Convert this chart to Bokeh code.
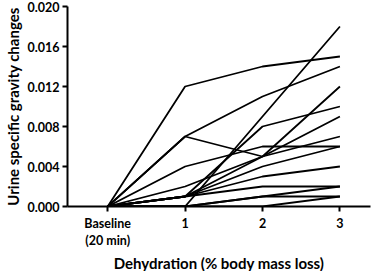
from bokeh.plotting import figure
from bokeh.models import FixedTicker, NumeralTickFormatter, Range1d, Title
from bokeh.embed import file_html
from bokeh.resources import INLINE

x_positions = [0, 1, 2, 3]
x_labels = ["Baseline\n(20 min)", "1", "2", "3"]
y_ticks = [0.000, 0.004, 0.008, 0.012, 0.016, 0.020]
x_title = "Dehydration (% body mass loss)"
y_title = "Urine specific gravity changes"

# each subject: urine specific gravity change at baseline, 1, 2, 3 % body mass loss
s01 = [0.0, 0.012, 0.014, 0.015]
s02 = [0.0, 0.007, 0.011, 0.014]
s03 = [0.0, 0.007, 0.005, 0.012]
s04 = [0.0, 0.004, 0.006, 0.006]
s05 = [0.0, 0.002, 0.005, 0.009]
s06 = [0.0, 0.001, 0.008, 0.010]
s07 = [0.0, 0.000, 0.009, 0.018]
s08 = [0.0, 0.001, 0.005, 0.007]
s09 = [0.0, 0.001, 0.004, 0.006]
s10 = [0.0, 0.001, 0.003, 0.004]
s11 = [0.0, 0.001, 0.002, 0.002]
s12 = [0.0, 0.000, 0.001, 0.002]
s13 = [0.0, 0.000, 0.001, 0.001]
s14 = [0.0, 0.000, 0.000, 0.001]
subjects = [s01, s02, s03, s04, s05, s06, s07, s08, s09, s10, s11, s12, s13, s14]

FONT = "Lato"

p = figure(width=372, height=271, output_backend="svg", toolbar_location=None,
           x_range=Range1d(-0.519, 3.395), y_range=Range1d(0.0, 0.020),
           min_border_left=54, min_border_right=2, min_border_top=6, min_border_bottom=0)
p.outline_line_color = None
p.xgrid.visible = False
p.ygrid.visible = False
p.background_fill_color = "white"
p.border_fill_color = "white"

p.multi_line(xs=[x_positions] * len(subjects), ys=subjects, line_color="black", line_width=1.8)

for ax in (p.xaxis[0], p.yaxis[0]):
    ax.axis_line_width = 2
    ax.axis_line_color = "black"
    ax.major_tick_line_width = 2
    ax.major_tick_line_color = "black"
    ax.major_tick_out = 5
    ax.major_tick_in = 0
    ax.minor_tick_line_color = None
    ax.major_label_text_font = FONT
    ax.major_label_text_font_style = "bold"
    ax.major_label_text_color = "black"
    ax.axis_label_text_font = FONT
    ax.axis_label_text_font_style = "bold"
    ax.axis_label_text_color = "black"

p.yaxis.ticker = FixedTicker(ticks=y_ticks)
p.yaxis.formatter = NumeralTickFormatter(format="0.000")
p.yaxis.major_label_text_font_size = "12.5px"
p.yaxis.axis_label = y_title
p.yaxis.axis_label_text_font_size = "15px"
p.yaxis.major_label_standoff = 3
p.yaxis.axis_label_standoff = 3

p.xaxis.ticker = FixedTicker(ticks=x_positions)
p.xaxis.major_label_overrides = {xp: lab for xp, lab in zip(x_positions, x_labels)}
p.xaxis.major_label_text_font_size = "12.5px"
p.xaxis.major_label_text_line_height = 1.17
p.xaxis.major_label_standoff = 4

p.add_layout(Title(text=x_title, align="center", text_font=FONT, text_font_style="bold",
                   text_font_size="15px", text_color="black", standoff=0, offset=10), "below")

open("out.html", "w").write(file_html(p, INLINE))
